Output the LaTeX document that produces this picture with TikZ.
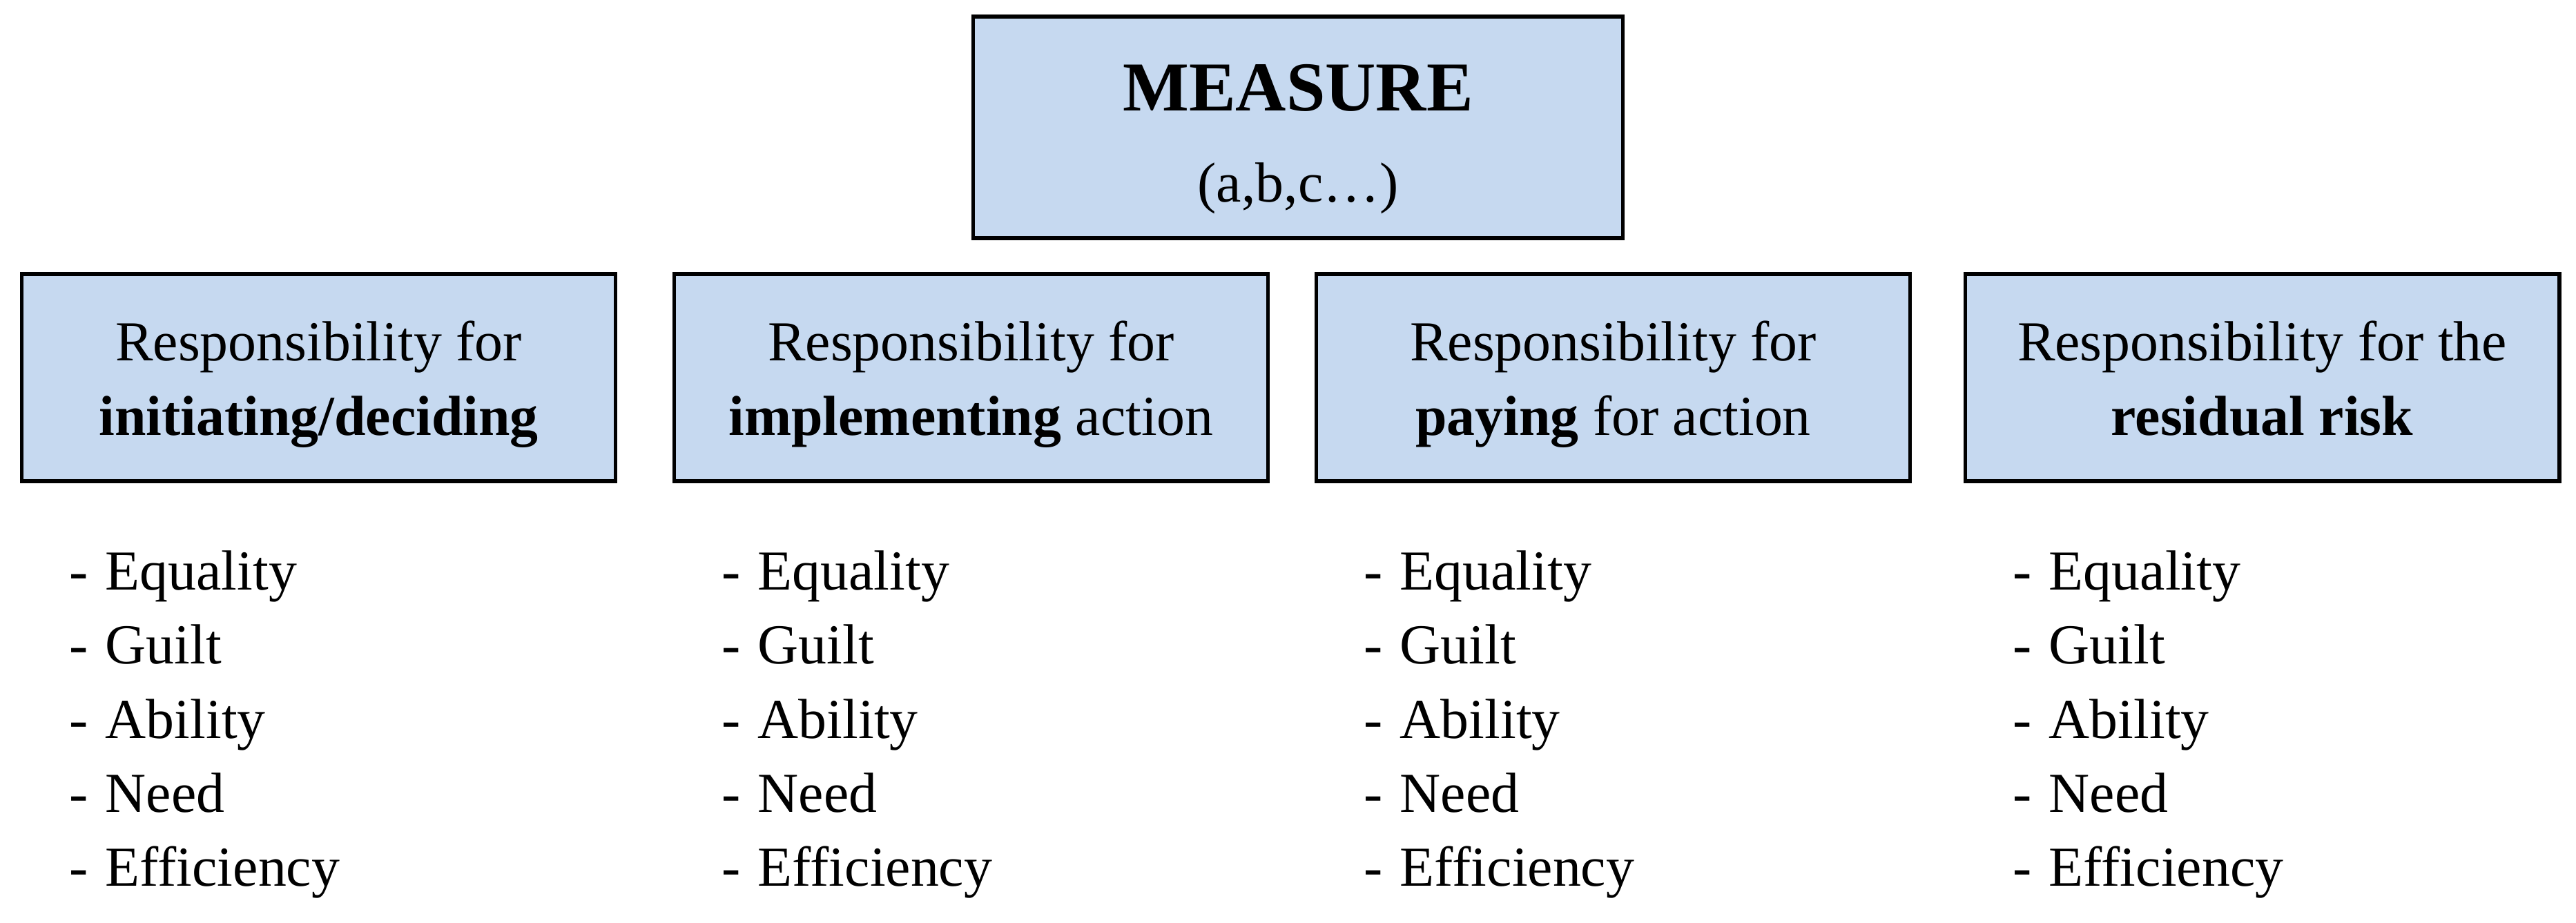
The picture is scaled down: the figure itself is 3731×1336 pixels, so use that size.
\documentclass[tikz,border=0pt]{standalone}
\usepackage{fontspec}
\setmainfont{Liberation Serif}
\usepackage{tikz}
\definecolor{boxblue}{RGB}{198,217,240}
\newcommand{\critem}[1]{\makebox[7.4pt][l]{-}#1}
\newcommand{\respstrut}{\rule[-2.6pt]{0pt}{2.6pt}}

\begin{document}
\begin{tikzpicture}[x=0.005cm,y=-0.005cm,
    resp/.style={draw,thick,fill=boxblue,minimum width=122.5pt,minimum height=42.7pt,
      inner sep=0pt,align=center,font=\fontsize{11.65}{15.3}\selectfont},
    crit/.style={anchor=north west,inner sep=0pt,align=left,font=\fontsize{11.65}{15.3}\selectfont}]
    \useasboundingbox (0,0) rectangle (3731,1336);
                        \node[resp,minimum width=134pt,minimum height=45.7pt] (M) at (1880,184.5)
                          {\rule{0pt}{14.5pt}{\fontsize{14.45}{18}\selectfont\bfseries MEASURE}\\[3.5pt] (a,b,c\ldots)};
                        \node[resp] (R1) at (461.5,547) {\rule{0pt}{11pt}Responsibility for\\ \textbf{initiating/deciding}\respstrut};
                        \node[resp] (R2) at (1406.5,547) {\rule{0pt}{11pt}Responsibility for\\ \textbf{implementing} action\respstrut};
                        \node[resp] (R3) at (2336.5,547) {\rule{0pt}{11pt}Responsibility for\\ \textbf{paying} for action\respstrut};
                        \node[resp] (R4) at (3276.5,547) {\rule{0pt}{11pt}Responsibility for the\\ \textbf{residual risk}\respstrut};
                        \foreach \i in {1,...,4}
                          \node[crit] (L\i) at ([xshift=10.1pt,yshift=-13.7pt]R\i.south west)
                            {\critem{Equality}\\ \critem{Guilt}\\ \critem{Ability}\\ \critem{Need}\\ \critem{Efficiency}};
                    \end{tikzpicture}
\end{document}
